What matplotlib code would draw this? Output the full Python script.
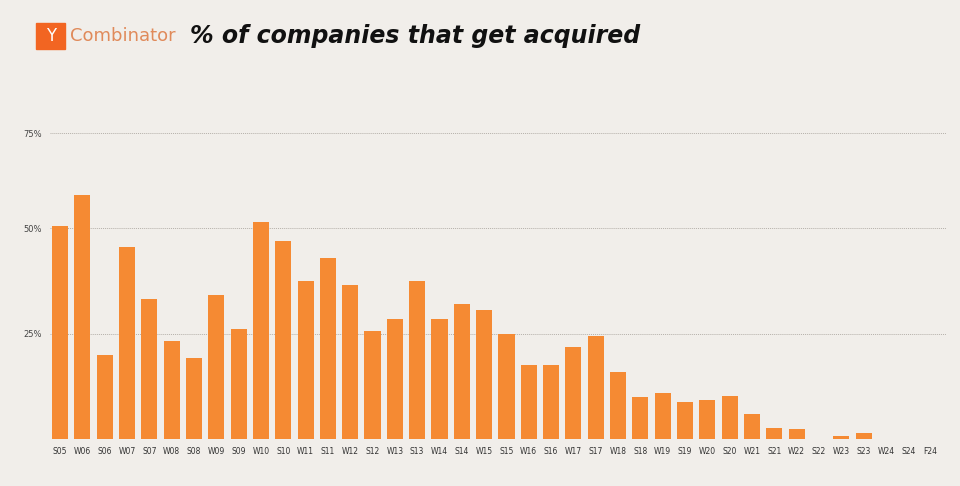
import numpy as np
import matplotlib
matplotlib.use("Agg")
import matplotlib.pyplot as plt
from matplotlib.patches import Rectangle

batches = ["S05", "W06", "S06", "W07", "S07", "W08", "S08", "W09", "S09", "W10",
           "S10", "W11", "S11", "W12", "S12", "W13", "S13", "W14", "S14", "W15",
           "S15", "W16", "S16", "W17", "S17", "W18", "S18", "W19", "S19", "W20",
           "S20", "W21", "S21", "W22", "S22", "W23", "S23", "W24", "S24", "F24"]
acquired = [50.5, 57.8, 20.0, 45.5, 33.3, 23.3, 19.3, 34.2, 26.0, 51.6,
            47.0, 37.5, 43.0, 36.6, 25.5, 28.5, 37.5, 28.5, 32.0, 30.7,
            25.0, 17.5, 17.5, 21.7, 24.5, 15.8, 9.9, 11.0, 8.7, 9.2,
            10.1, 5.9, 2.6, 2.4, 0.0, 0.7, 1.4, 0.0, 0.0, 0.0]
# grid lines sit where the picture draws them (the top one is not evenly spaced)
grid_pos = [25, 50, 72.5]
grid_labels = ["25%", "50%", "75%"]

bg = "#f1eeea"
fig = plt.figure(figsize=(9.6, 4.86), dpi=100, facecolor=bg)
ax = fig.add_axes([0.052, 0.097, 0.933, 0.65])
ax.set_facecolor(bg)

x = np.arange(len(batches))
ax.bar(x, acquired, width=0.72, color="#f58a33", zorder=3)
ax.set_xlim(-0.45, len(batches) - 0.33)
ax.set_ylim(0, 75)

for g in grid_pos:
    ax.axhline(g, color="#b5b0aa", lw=0.7, ls=(0, (1, 1)), zorder=1)
ax.set_yticks(grid_pos)
ax.set_yticklabels(grid_labels, fontsize=6, color="#444444")
ax.set_xticks(x)
ax.set_xticklabels(batches, fontsize=5.5, color="#333333")
ax.tick_params(length=0, pad=6)
for s in ax.spines.values():
    s.set_visible(False)

# logo
fig.patches.append(Rectangle((0.038, 0.9), 0.03, 0.052, transform=fig.transFigure,
                             color="#f26522"))
fig.text(0.053, 0.926, "Y", color="white", fontsize=12, ha="center", va="center")
fig.text(0.073, 0.926, "Combinator", color="#e08a5a", fontsize=13, ha="left", va="center")
fig.text(0.198, 0.926, "% of companies that get acquired", color="#111111", fontsize=17,
         style="italic", weight="bold", ha="left", va="center")

fig.savefig("out.png", dpi=100, facecolor=bg)
